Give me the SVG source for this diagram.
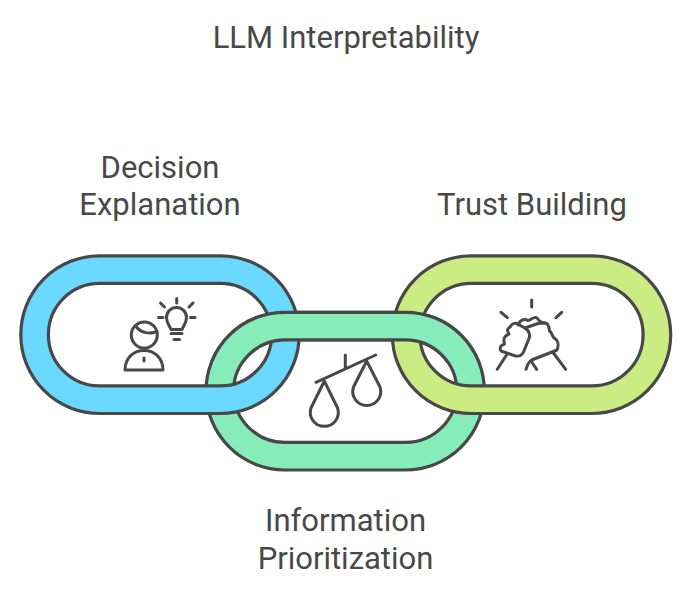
<svg xmlns="http://www.w3.org/2000/svg" width="692" height="596" viewBox="0 0 692 596">
<style>
.t{font-family:Roboto,"Liberation Sans",sans-serif;font-size:31px;fill:#484848;text-anchor:middle}
.r{stroke:#484848;stroke-width:3.2;fill-rule:evenodd}
.i{fill:none;stroke:#484848;stroke-width:3;stroke-linecap:round;stroke-linejoin:round}
</style>
<defs>
<path id="ring" d="M78.850 0H199.550a78.850 78.850 0 0 1 0 157.700H78.850a78.850 78.850 0 0 1 0-157.700ZM78.850 27.600a51.250 51.250 0 0 0 0 102.500H199.550a51.250 51.250 0 0 0 0-102.500Z"/>
<clipPath id="top"><rect x="190" y="300" width="310" height="62"/></clipPath>
</defs>
<rect width="692" height="596" fill="#fff"/>
<g id="connectors">
<use id="ring-green-base" href="#ring" x="206" y="312.300" class="r" fill="#86ecb9"/>
</g>
<g id="node-decision">
<use href="#ring" x="20.800" y="255.800" class="r" fill="#6bd8ff"/>
<g class="i">
<circle cx="144.300" cy="335" r="13"/>
<path d="M136.500 327C141 333 150 334.500 157 331.500"/>
<path d="M125 370C125 344 163 344 163 370Z"/>
<path d="M144 358V361"/>
<path d="M171 329.500C170 326 166.500 324 166.500 317.500A10 10 0 0 1 186.500 317.500C186.500 324 183 326 182 329.500Z"/>
<path d="M171 333.500H182M174 339.500H179.500M176.700 298.500V303M158.500 317.500H163M190.500 317.500H195M160.500 303L164.500 307M193 303L189 307"/>
</g>
<text class="t" x="160" y="178">Decision</text>
<text class="t" x="160" y="215">Explanation</text>
</g>
<g id="node-trust">
<use href="#ring" x="392.300" y="255.800" class="r" fill="#cbec82"/>
<g class="i">
<path d="M531.700 300V307M501 312.300L507.300 317.700M561.700 312.300L556 317.700"/>
<path d="M518.500 325C516 322 512 323 510 327C508 329 506 329 509 334C504 336 503 339 504.500 344C501 345 499 348 501 351L514 355.500C519 357 522 356 524 351L529.500 337C530 333 528 330 525 328L518.500 324.500C520 320 524 318 528 320.500C531 320 534 316 537 318C539 321 541 323 545 323C548 323 549 326 549.500 331C552 332 552 336 554 338C558 340 559 345 557 350L552 352L531.700 360C528 362 527 366 526 369.300"/>
<path d="M525 328L538 323.500L545 323"/>
<path d="M506.500 355L497.300 369.300M552.700 352L565.700 369.300M531.700 362L536.700 369.300"/>
</g>
<text class="t" x="532" y="215">Trust Building</text>
</g>
<g id="node-information">
<g clip-path="url(#top)"><use href="#ring" x="206" y="312.300" class="r" fill="#86ecb9"/></g>
<g class="i">
<path d="M316 382.300L375.700 355M345.300 355V368.500"/>
<path d="M324.300 381L311 408A14 14 0 1 0 337.600 408Z"/>
<path d="M366.700 361L353.500 387A14 14 0 1 0 380 387Z"/>
</g>
<text class="t" x="345.500" y="531">Information</text>
<text class="t" x="345.500" y="569">Prioritization</text>
</g>
<text id="title" class="t" x="346" y="48">LLM Interpretability</text>
</svg>
